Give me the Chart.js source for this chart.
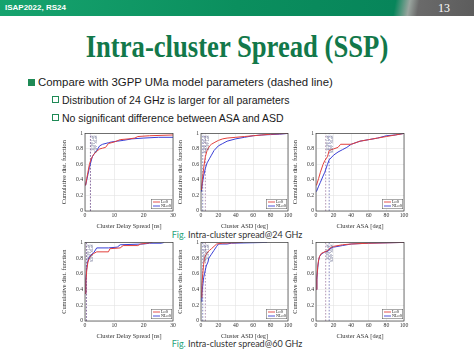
<!DOCTYPE html>
<html><head><meta charset="utf-8">
<script src="https://cdn.jsdelivr.net/npm/chart.js@4.4.1/dist/chart.umd.min.js"></script>
<style>
html,body{margin:0;padding:0;background:#fff;}
#slide{position:relative;width:474px;height:353px;overflow:hidden;background:#fff;}
.hdr{position:absolute;left:0;top:0;width:474px;height:16px;background:linear-gradient(100deg,#16a36e 0%,#0b8f5e 50%,#07855a 83%,#9aa59f 86%,#6a6a6a 88%,#5c5c5c 100%);}
.hdrL{position:absolute;left:5px;top:3px;font:bold 8px "Liberation Sans",Arial,sans-serif;color:#fff;}
.hdrR{position:absolute;left:438px;top:1px;font:12px "Liberation Serif",serif;color:#fff;}
.title{position:absolute;left:0;width:474px;top:29px;text-align:center;font:bold 31px "Liberation Serif",serif;color:#12784a;white-space:nowrap;}
.title span{display:inline-block;transform:scaleX(0.86);transform-origin:center;}
.b1{position:absolute;left:28px;top:79px;width:7px;height:7px;background:#1f8a56;}
.b2{position:absolute;width:5px;height:5px;border:1.3px solid #1f8a56;background:#fff;}
.t{position:absolute;font:11.4px "Liberation Sans",Arial,sans-serif;color:#1a1a1a;white-space:nowrap;}
.t2{font-size:10.5px;}
.cap{position:absolute;left:0;width:474px;text-align:center;font:9px Lato,"Noto Sans",sans-serif;color:#333;white-space:nowrap;}
.cap b{font-weight:normal;color:#27a37a;}
canvas{position:absolute;}
</style></head>
<body><div id="slide">
<div class="hdr"></div>
<div class="hdrL">ISAP2022, RS24</div>
<div class="hdrR">13</div>
<div class="title"><span>Intra-cluster Spread (SSP)</span></div>
<div class="b1"></div>
<div class="t" style="left:38px;top:76px;">Compare with 3GPP UMa model parameters (dashed line)</div>
<div class="b2" style="left:52px;top:96px;"></div>
<div class="t t2" style="left:62px;top:94px;">Distribution of 24 GHz is larger for all parameters</div>
<div class="b2" style="left:52px;top:114px;"></div>
<div class="t t2" style="left:62px;top:112px;">No significant difference between ASA and ASD</div>
<div class="cap" style="top:229px;"><b>Fig.</b> Intra-cluster spread@24 GHz</div>
<div class="cap" style="top:338px;"><b>Fig.</b> Intra-cluster spread@60 GHz</div>
<canvas id="c1"></canvas><canvas id="c2"></canvas><canvas id="c3"></canvas>
<canvas id="c4"></canvas><canvas id="c5"></canvas><canvas id="c6"></canvas>
</div>
<script>
// ---- data (x, CDF) ----
const ds24LoS  = [[0.2,0.33],[0.6,0.42],[1,0.5],[1.5,0.6],[2,0.66],[2.5,0.7],[3,0.73],[4,0.77],[5,0.8],[6,0.81],[7,0.82],[8,0.87],[10,0.89],[12,0.92],[15,0.93],[17,0.94],[18,0.96],[22,0.97],[30,0.98]];
const ds24NLoS = [[0.2,0.33],[0.6,0.4],[1,0.47],[1.5,0.56],[2,0.63],[2.5,0.7],[3,0.73],[4,0.78],[5,0.84],[6,0.86],[8,0.88],[9,0.89],[11,0.9],[13,0.91],[16,0.93],[20,0.94],[25,0.95],[30,0.95]];
const asd24LoS  = [[0.5,0.27],[1.5,0.4],[3,0.55],[5,0.7],[7,0.78],[10,0.84],[12,0.86],[15,0.88],[20,0.91],[25,0.93],[30,0.94],[40,0.95],[50,0.96],[60,0.97],[70,0.98],[80,0.99],[90,0.995],[100,1]];
const asd24NLoS = [[0.5,0.25],[1.5,0.35],[3,0.45],[5,0.55],[7,0.62],[10,0.68],[12,0.72],[15,0.78],[20,0.84],[25,0.87],[30,0.9],[40,0.93],[50,0.95],[60,0.97],[70,0.98],[80,0.985],[90,0.99],[100,1]];
const asa24LoS  = [[0.5,0.33],[3,0.42],[5,0.5],[8,0.6],[10,0.65],[13,0.7],[15,0.78],[20,0.8],[25,0.82],[28,0.86],[40,0.86],[50,0.9],[60,0.92],[70,0.94],[80,0.96],[90,0.98],[100,1]];
const asa24NLoS = [[0.5,0.25],[3,0.32],[5,0.37],[8,0.45],[10,0.5],[13,0.6],[15,0.66],[20,0.72],[25,0.76],[30,0.79],[35,0.82],[40,0.86],[50,0.9],[60,0.92],[70,0.94],[80,0.97],[90,0.98],[100,1]];
const ds60LoS  = [[0.1,0.35],[0.3,0.5],[0.6,0.65],[1,0.75],[1.5,0.8],[2,0.83],[3,0.86],[4,0.88],[8,0.88],[8.5,0.92],[12,0.93],[13,0.96],[18,0.96],[19,0.98],[21,0.99],[23,1]];
const ds60NLoS = [[0.1,0.35],[0.3,0.52],[0.6,0.68],[1,0.77],[1.5,0.82],[2,0.84],[3,0.87],[4,0.93],[8,0.93],[11,0.94],[12,0.97],[20,0.98],[22,0.99],[26,0.99],[27,1]];
const asd60LoS  = [[0.5,0.3],[1,0.45],[2,0.6],[3,0.72],[4,0.8],[6,0.85],[8,0.88],[10,0.9],[12,0.92],[15,0.95],[18,0.98],[25,0.99],[48,1]];
const asd60NLoS = [[0.5,0.25],[1,0.35],[2,0.45],[3,0.55],[4,0.6],[6,0.7],[8,0.75],[9,0.8],[12,0.85],[15,0.9],[18,0.95],[20,0.98],[30,0.98],[35,0.99],[76,1]];
const asa60LoS  = [[0.5,0.4],[1,0.55],[2,0.7],[3,0.78],[4,0.82],[6,0.86],[10,0.88],[14,0.9],[16,0.93],[20,0.95],[30,0.97],[40,0.98],[60,0.99],[100,1]];
const asa60NLoS = [[0.5,0.4],[1,0.53],[2,0.68],[3,0.77],[4,0.82],[6,0.85],[10,0.88],[14,0.89],[16,0.92],[20,0.94],[30,0.96],[40,0.98],[60,0.99],[100,1]];
// 3GPP UMa cluster parameters [LoS, NLoS]
const gppDS24 = [1.86, 1.86];
const gppDS60 = [0.5, 0.5];
const gppASD  = [5, 2];
const gppASA  = [11, 15];
const seriesNames = ['LoS', 'NLoS'];
const yTicks = [0, 0.2, 0.4, 0.6, 0.8, 1];
const yTickLabels = ['0', '0.2', '0.4', '0.6', '0.8', '1'];

const RED = '#e2403c', BLUE = '#3a3fd6';
const SERIF = '"Liberation Serif","Times New Roman",serif';

const extras = {
  id: 'extras',
  afterDatasetsDraw(chart) {
    const {ctx, chartArea: a, scales} = chart;
    const o = chart.options.plugins.extras;
    ctx.save();
    ctx.font = '3.6px ' + SERIF;
    ctx.fillStyle = '#555a80';
    const labels = o.gpp[0] === o.gpp[1] ? [['3GPP LoS', o.gpp[0], 2.5], ['3GPP NLoS', o.gpp[0], 6]] :
      [['3GPP LoS', o.gpp[0], 2.5], ['3GPP NLoS', o.gpp[1], 2.5]];
    labels.forEach(([txt, v, dx]) => {
      const x = scales.x.getPixelForValue(v) + dx;
      ctx.save();
      ctx.translate(x, a.top + 2);
      ctx.rotate(-Math.PI / 2);
      ctx.textAlign = 'right';
      ctx.textBaseline = 'middle';
      ctx.fillText(txt, 0, 0);
      ctx.restore();
    });
    ctx.strokeStyle = '#3a3a3a';
    ctx.lineWidth = 0.7;
    ctx.strokeRect(a.left, a.top, a.width, a.height);
    const w = 21, h = 10, lx = a.right - w - 1, ly = a.bottom - h - 2;
    ctx.fillStyle = '#fff';
    ctx.fillRect(lx, ly, w, h);
    ctx.strokeStyle = '#555';
    ctx.lineWidth = 0.5;
    ctx.strokeRect(lx + 0.25, ly + 0.25, w - 0.5, h - 0.5);
    [[RED, seriesNames[0], ly + 3], [BLUE, seriesNames[1], ly + 7]].forEach(([c, t, yy]) => {
      ctx.strokeStyle = c; ctx.lineWidth = 0.9;
      ctx.beginPath(); ctx.moveTo(lx + 2, yy); ctx.lineTo(lx + 9, yy); ctx.stroke();
      ctx.fillStyle = '#222'; ctx.font = '4.2px ' + SERIF;
      ctx.textBaseline = 'middle'; ctx.textAlign = 'left';
      ctx.fillText(t, lx + 10, yy);
    });
    ctx.restore();
  }
};

function pts(arr) { return arr.map(p => ({x: p[0], y: p[1]})); }

function makeChart(id, L, T, W, H, xMax, xStep, xTitle, los, nlos, gpp) {
  const cv = document.getElementById(id);
  const PL = 26, PT = 4, PR = 6, XB = 21;
  cv.width = W + PL + PR; cv.height = H + PT + XB;
  cv.style.left = (L - PL) + 'px'; cv.style.top = (T - PT) + 'px';
  const dashed = (v, c) => ({data: [{x: v, y: 0}, {x: v, y: 1}], borderColor: c, borderWidth: 0.8,
    borderDash: [1.6, 1.6], pointRadius: 0, showLine: true, fill: false});
  new Chart(cv, {
    type: 'scatter',
    data: {datasets: [
      {label: seriesNames[0], data: pts(los), borderColor: RED, borderWidth: 1, showLine: true, pointRadius: 0, tension: 0},
      {label: seriesNames[1], data: pts(nlos), borderColor: BLUE, borderWidth: 1, showLine: true, pointRadius: 0, tension: 0},
      dashed(gpp[0], 'rgba(150,110,150,0.9)'),
      dashed(gpp[1], 'rgba(90,90,170,0.9)')
    ]},
    options: {
      responsive: false, animation: false, devicePixelRatio: 1,
      layout: {padding: {left: 0, right: PR, top: PT, bottom: 0}},
      plugins: {legend: {display: false}, tooltip: {enabled: false}, extras: {gpp: gpp}},
      scales: {
        x: {type: 'linear', min: 0, max: xMax,
          ticks: {stepSize: xStep, font: {family: SERIF, size: 5.7}, color: '#333', padding: 1.5, maxRotation: 0},
          grid: {color: '#e3e3e3', lineWidth: 0.6, drawTicks: false},
          border: {display: false},
          title: {display: true, text: xTitle, font: {family: SERIF, size: 6.3}, color: '#333', padding: {top: 0, bottom: 2}},
          afterFit: s => { s.height = XB; }},
        y: {type: 'linear', min: 0, max: 1,
          afterBuildTicks: s => { s.ticks = yTicks.map(v => ({value: v})); },
          ticks: {font: {family: SERIF, size: 5.7}, color: '#333', padding: 2,
            callback: (v) => yTickLabels[yTicks.findIndex(t => Math.abs(t - v) < 1e-9)]},
          grid: {color: '#e3e3e3', lineWidth: 0.6, drawTicks: false},
          border: {display: false},
          title: {display: true, text: 'Cumulative dist. function', font: {family: SERIF, size: 6.3}, color: '#333', padding: {top: 2, bottom: 0}},
          afterFit: s => { s.width = PL; }}
      }
    },
    plugins: [extras]
  });
}

makeChart('c1', 85, 132, 88, 79, 30, 10, 'Cluster Delay Spread [ns]', ds24LoS, ds24NLoS, gppDS24);
makeChart('c2', 201, 132, 87, 79, 100, 20, 'Cluster ASD [deg]', asd24LoS, asd24NLoS, gppASD);
makeChart('c3', 316, 132, 88, 79, 100, 20, 'Cluster ASA [deg]', asa24LoS, asa24NLoS, gppASA);
makeChart('c4', 85, 241, 88, 80, 30, 10, 'Cluster Delay Spread [ns]', ds60LoS, ds60NLoS, gppDS60);
makeChart('c5', 201, 241, 87, 80, 100, 20, 'Cluster ASD [deg]', asd60LoS, asd60NLoS, gppASD);
makeChart('c6', 316, 241, 88, 80, 100, 20, 'Cluster ASA [deg]', asa60LoS, asa60NLoS, gppASA);
</script>
</body></html>
